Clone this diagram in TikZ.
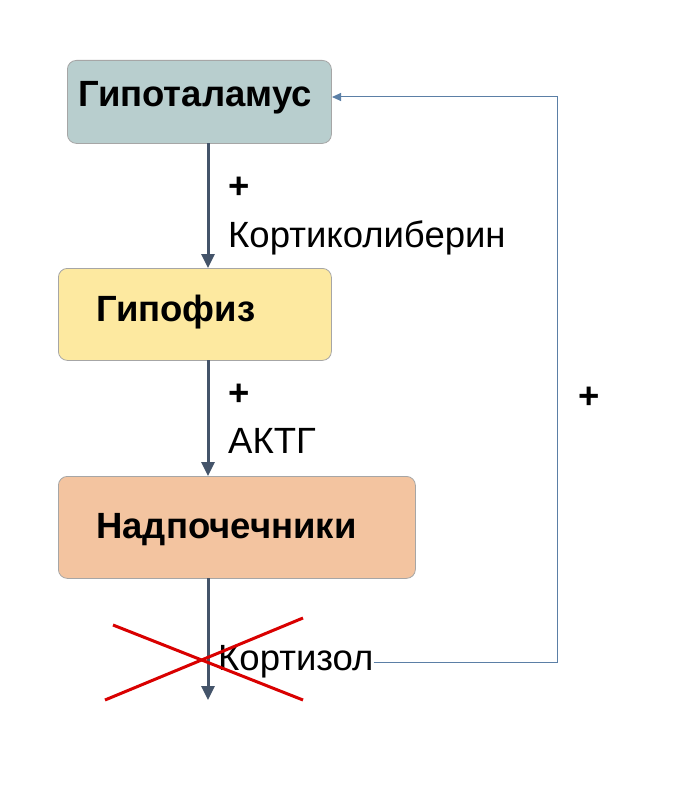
\documentclass[tikz,border=0pt]{standalone}
\usepackage{fontspec}
\setmainfont{Liberation Sans}
\usetikzlibrary{arrows.meta}
\definecolor{arr}{HTML}{44546A}
\definecolor{fb}{HTML}{5B7FA6}
\tikzset{
 box/.style={draw=gray!70, rounded corners=9pt, line width=0.8pt, anchor=north west},
 lbl/.style={font=\fontsize{36.5}{40}\selectfont, anchor=west, inner sep=0pt},
 blbl/.style={font=\fontsize{36.5}{40}\selectfont\bfseries, anchor=west, inner sep=0pt},
 main/.style={draw=arr, line width=3pt, -{Triangle[length=14pt,width=13pt]}},
}
\begin{document}
\begin{tikzpicture}[x=1pt,y=-1pt]
\useasboundingbox (0,0) rectangle (693,797);
\fill[white] (0,0) rectangle (693,797);
\node[box, fill={rgb,255:red,184;green,206;blue,206}, minimum width=264pt, minimum height=83pt] (h) at (67,60) {};
\node[blbl] at (78,98) {Гипоталамус};
\node[box, fill={rgb,255:red,253;green,233;blue,160}, minimum width=273pt, minimum height=92pt] (p) at (58,268) {};
\node[blbl] at (96,312) {Гипофиз};
\node[box, fill={rgb,255:red,243;green,196;blue,160}, minimum width=357pt, minimum height=102pt] (n) at (58,476) {};
\node[blbl] at (96,530) {Надпочечники};
\coordinate (hb) at (208,143);
\coordinate (pt) at (208,268);
\coordinate (pb) at (208,360);
\coordinate (nt) at (208,476);
\coordinate (nb) at (208,578);
\coordinate (end) at (208,700);
\draw[main] (hb) -- (pt);
\draw[main] (pb) -- (nt);
\draw[main] (nb) -- (end);
\node[blbl] at (228,188) {+};
\node[lbl] at (228,238) {Кортиколиберин};
\node[blbl] at (228,395) {+};
\node[lbl] at (228,441) {АКТГ};
\node[lbl] (k) at (218,662) {Кортизол};
\coordinate (c1) at (557,662);
\coordinate (c2) at (557,97);
\coordinate (ht) at (332,97);
\draw[fb, line width=1pt, -{Triangle[length=9pt,width=8pt]}] (k.east) -- (c1) -- (c2) -- (ht);
\node[blbl] at (578,398) {+};
\draw[red!85!black, line width=3pt] (113,625) -- (303,700) (105,700) -- (303,618);
\end{tikzpicture}
\end{document}
